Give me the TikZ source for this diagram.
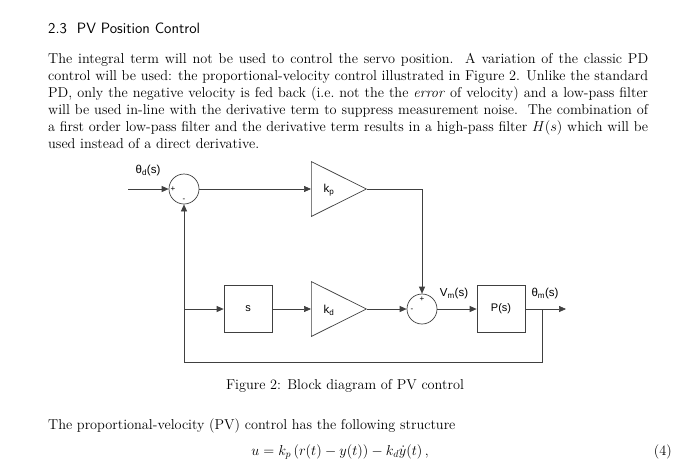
\documentclass[tikz,border=0pt]{standalone}
\usepackage{fontspec}
\newfontfamily\dia{Liberation Sans}
\usetikzlibrary{arrows.meta,shapes.geometric}
\begin{document}
\begin{tikzpicture}[x=1pt,y=-1pt,
  line/.style={draw=black!75,line width=0.7pt},
  arr/.style={line,-{Triangle[length=7pt,width=6pt]}},
  sum/.style={circle,draw=black!75,line width=0.7pt,minimum size=30pt,inner sep=0pt},
  blk/.style={rectangle,draw=black!75,line width=0.7pt,minimum width=48pt,minimum height=47pt,inner sep=0pt,font=\dia\fontsize{11}{12}\selectfont},
  gain/.style={isosceles triangle,isosceles triangle apex angle=53,draw=black!75,line width=0.7pt,minimum height=55pt,inner sep=0pt,anchor=west,font=\dia\fontsize{11}{12}\selectfont},
  lbl/.style={font=\dia\fontsize{11.5}{12}\selectfont,inner sep=0pt},
  sg/.style={font=\dia\fontsize{8}{8}\selectfont,inner sep=0pt},
  body/.style={anchor=base west,inner sep=0pt,font=\fontsize{14.3}{17}\selectfont}]
\useasboundingbox[fill=white] (0,0) rectangle (700,467);
% text
\node[anchor=base west,inner sep=0pt,font=\sffamily\fontsize{15}{17}\selectfont] (h) at (48,33) {2.3\hspace{10pt}PV Position Control};
\node[body] (l1) at (48,63) {\makebox[600pt][s]{The integral term will not be used to control the servo position.\ \ A variation of the classic PD}};
\node[body] (l2) at (48,80) {\makebox[600pt][s]{control will be used: the proportional-velocity control illustrated in Figure 2. Unlike the standard}};
\node[body] (l3) at (48,97) {\makebox[600pt][s]{PD, only the negative velocity is fed back (i.e.\ not the the \emph{error} of velocity) and a low-pass filter}};
\node[body] (l4) at (48,114) {\makebox[600pt][s]{will be used in-line with the derivative term to suppress measurement noise.\ \ The combination of}};
\node[body] (l5) at (48,131) {\makebox[600pt][s]{a first order low-pass filter and the derivative term results in a high-pass filter $H(s)$ which will be}};
\node[body] (l6) at (48,148) {used instead of a direct derivative.};
\node[anchor=base,inner sep=0pt,font=\fontsize{14.3}{17}\selectfont] (cap) at (345,389) {Figure 2: Block diagram of PV control};
\node[body] (l7) at (48,429) {The proportional-velocity (PV) control has the following structure};
\node[anchor=base,inner sep=0pt,font=\fontsize{14.3}{17}\selectfont] (eq) at (340,455) {$u = k_p\left(r(t)-y(t)\right) - k_d\dot y(t)\,,$};
\node[anchor=base east,inner sep=0pt,font=\fontsize{14.3}{17}\selectfont] (eqn) at (672,455) {(4)};
% diagram
\node[sum] (s1) at (184,189) {};
\node[sum] (s2) at (422,309) {};
\node[gain] (kp) at (311,189) {};
\node[lbl] (kpl) at (329,190) {k\textsubscript{p}};
\node[gain] (kd) at (311,309) {};
\node[lbl] (kdl) at (329,310) {k\textsubscript{d}};
\node[blk] (sb) at (248,309) {s};
\node[blk] (pb) at (501,309) {P(s)};
\coordinate (in) at (128,189);
\coordinate (br) at (184,309);
\coordinate (ob) at (542,309);
\coordinate (out) at (566,309);
\coordinate (kpc) at (422,189);
\coordinate (bl) at (184,362);
\coordinate (brr) at (542,362);
\draw[arr] (in) -- (s1);
\draw[arr] (s1) -- (kp.west);
\draw[arr] (kp.apex) -- (kpc) -- (s2);
\draw[arr] (br) -- (sb);
\draw[arr] (sb) -- (kd.west);
\draw[arr] (kd.apex) -- (s2);
\draw[arr] (s2) -- (pb);
\draw[arr] (pb) -- (out);
\draw[line] (ob) -- (brr) -- (bl) -- (br);
\draw[arr] (br) -- (s1);
\node[sg] (p1) at (173,189) {+};
\node[sg] (m1) at (184,200) {-};
\node[sg] (p2) at (422,299) {+};
\node[sg] (m2) at (412,310) {-};
\node[lbl] (td) at (148,171) {θ\textsubscript{d}(s)};
\node[lbl] (vm) at (454,294) {V\textsubscript{m}(s)};
\node[lbl] (tm) at (545,294) {θ\textsubscript{m}(s)};
\end{tikzpicture}
\end{document}
